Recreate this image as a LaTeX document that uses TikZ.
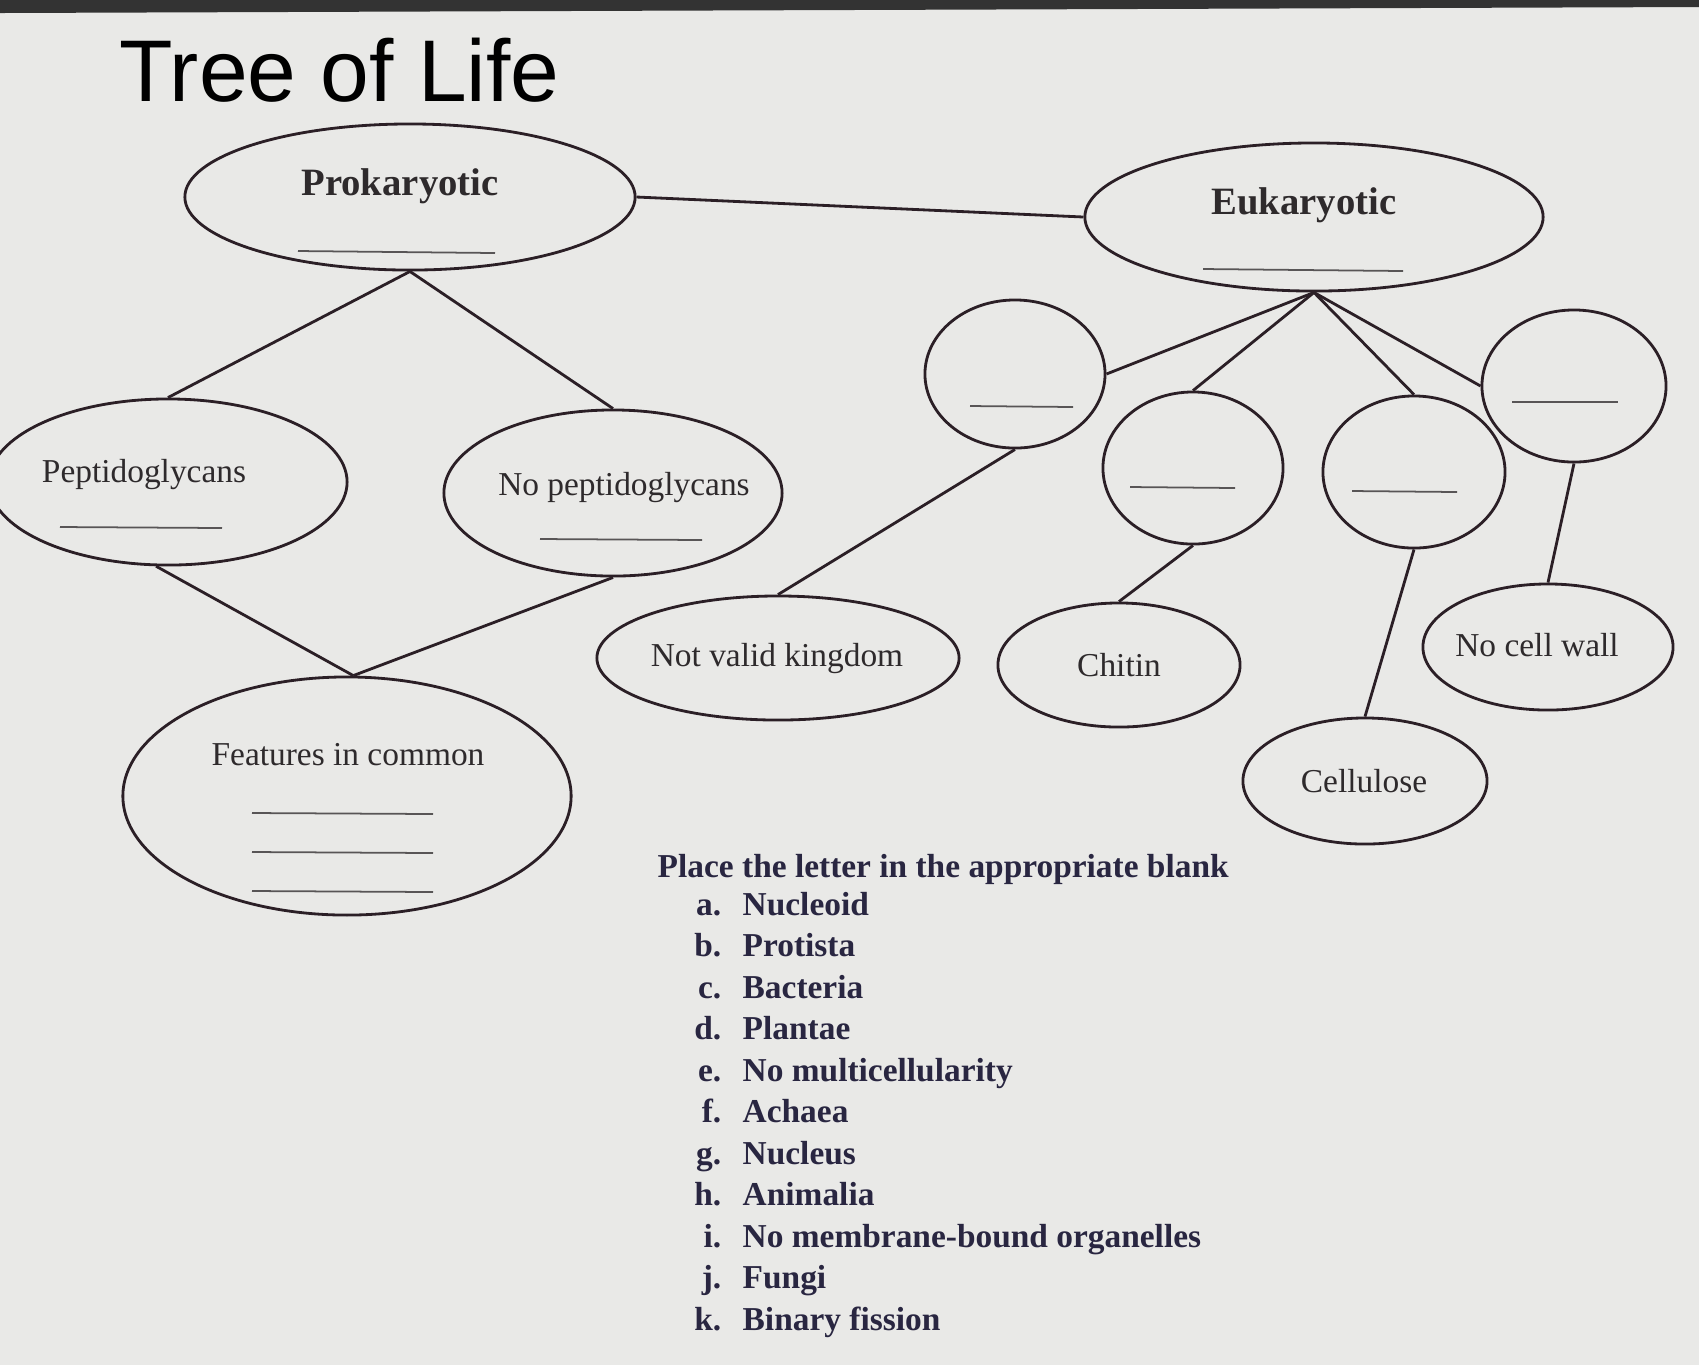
\documentclass[tikz,border=0pt]{standalone}
\usepackage{fontspec}
\setmainfont{Liberation Serif}
\newfontfamily\titlefont{Liberation Sans}
\usetikzlibrary{shapes.geometric}

\definecolor{ink}{HTML}{2B1F26}
\definecolor{paper}{HTML}{E9E9E7}
\definecolor{txt}{HTML}{2E2A2C}

\tikzset{
  oval/.style={draw=ink, line width=0.8pt, ellipse, inner sep=0pt},
  link/.style={draw=ink, line width=0.8pt},
  blank/.style={draw=txt!80, line width=0.5pt},
  head/.style={text=txt, font=\fontsize{11}{13}\selectfont\bfseries},
  lbl/.style={text=txt, font=\fontsize{9.5}{11}\selectfont},
  item/.style={text=txt!90!blue, inner sep=0pt, font=\fontsize{9.5}{11}\selectfont\bfseries}
}

\begin{document}
\begin{tikzpicture}[x=0.01cm, y=-0.01cm]
% Frame
\fill[paper] (0,0) rectangle (1699,1365);
\fill[black!80] (0,0) -- (1699,0) -- (1699,7) -- (0,13) -- cycle;
\useasboundingbox (0,0) rectangle (1699,1365);

\node[font=\titlefont\fontsize{24.9}{28}\selectfont, inner sep=0pt, anchor=west] (title) at (119, 70) {Tree of Life};

% Ellipses
\node[oval, minimum width=4.5cm,  minimum height=1.46cm] (pro) at (410, 197) {};
\node[oval, minimum width=4.58cm, minimum height=1.48cm] (euk) at (1314, 217) {};
\node[oval, minimum width=3.58cm, minimum height=1.66cm] (pep) at (168, 482) {};
\node[oval, minimum width=3.38cm, minimum height=1.66cm] (nop) at (613, 493) {};
\node[oval, minimum width=4.48cm, minimum height=2.38cm] (fea) at (347, 796) {};
\node[oval, minimum width=3.62cm, minimum height=1.24cm] (nvk) at (778, 658) {};
\node[oval, minimum width=2.42cm, minimum height=1.24cm] (chi) at (1119, 665) {};
\node[oval, minimum width=2.44cm, minimum height=1.26cm] (cel) at (1365, 781) {};
\node[oval, minimum width=2.50cm, minimum height=1.26cm] (ncw) at (1548, 647) {};

% Circles
\node[oval, minimum width=1.80cm, minimum height=1.48cm] (c1) at (1015, 374) {};
\node[oval, minimum width=1.80cm, minimum height=1.52cm] (c2) at (1193, 468) {};
\node[oval, minimum width=1.82cm, minimum height=1.52cm] (c3) at (1414, 472) {};
\node[oval, minimum width=1.84cm, minimum height=1.52cm] (c4) at (1574, 386) {};

% Labels
\node[head] (pro-txt) at (400, 186) {Prokaryotic};
\node[head] (euk-txt) at (1304, 205) {Eukaryotic};
\node[lbl] (pep-txt) at (144, 474) {Peptidoglycans};
\node[lbl] (nop-txt) at (624, 487) {No peptidoglycans};
\node[lbl] (fea-txt) at (348, 755) {Features in common};
\node[lbl] (nvk-txt) at (777, 658) {Not valid kingdom};
\node[lbl] (chi-txt) at (1119, 665) {Chitin};
\node[lbl] (cel-txt) at (1364, 781) {Cellulose};
\node[lbl] (ncw-txt) at (1537, 645) {No cell wall};

% Blanks
\draw[blank] (298, 251) -- (495, 253);
\draw[blank] (1203, 269) -- (1403, 271);
\draw[blank] (60, 527) -- (222, 528);
\draw[blank] (540, 539) -- (702, 540);
\draw[blank] (252, 813) -- (433, 814);
\draw[blank] (252, 852) -- (433, 853);
\draw[blank] (252, 891) -- (433, 892);
\draw[blank] (970, 406) -- (1073, 407);
\draw[blank] (1130, 487) -- (1235, 488);
\draw[blank] (1352, 491) -- (1457, 492);
\draw[blank] (1512, 402) -- (1618, 402);

% Links
\draw[link] (pro.east) -- (euk.west);
\draw[link] (pro.south) -- (pep.north);
\draw[link] (pro.south) -- (nop.north);
\draw[link] (pep.262) -- (fea.87);
\draw[link] (nop.south) -- (fea.87);
\draw[link] (euk.south) -- (c1.east);
\draw[link] (euk.south) -- (c2.north);
\draw[link] (euk.south) -- (c3.north);
\draw[link] (euk.south) -- (c4.west);
\draw[link] (c1.south) -- (nvk.north);
\draw[link] (c2.south) -- (chi.north);
\draw[link] (c3.south) -- (cel.north);
\draw[link] (c4.south) -- (ncw.north);

% Key
\node[item, anchor=mid west] (key) at (657, 869) {Place the letter in the appropriate blank};
\foreach \l/\t [count=\i from 0] in {a/Nucleoid, b/Protista, c/Bacteria, d/Plantae,
    e/No multicellularity, f/Achaea, g/Nucleus, h/Animalia,
    i/No membrane-bound organelles, j/Fungi, k/Binary fission} {
  \node[item, anchor=mid east] (key-\l) at (722, {907+41.5*\i}) {\l.};
  \node[item, anchor=mid west] (key-\l-txt) at (742, {907+41.5*\i}) {\t};
}
\end{tikzpicture}
\end{document}
